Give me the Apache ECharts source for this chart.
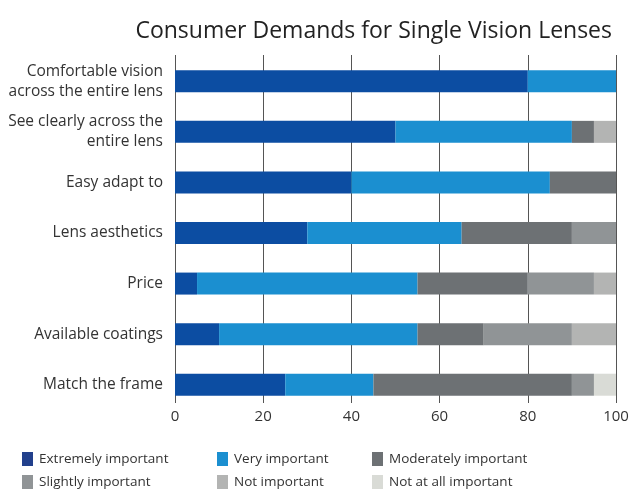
<!DOCTYPE html>
<html>
<head>
<meta charset="utf-8">
<script src="https://cdn.jsdelivr.net/npm/echarts@6/dist/echarts.min.js"></script>
<style>html,body{margin:0;padding:0;background:#fff;}#c{width:640px;height:503px;}</style>
</head>
<body>
<div id="c"></div>
<script>
const categories = [
  "Comfortable vision\nacross the entire lens",
  "See clearly across the\nentire lens",
  "Easy adapt to",
  "Lens aesthetics",
  "Price",
  "Available coatings",
  "Match the frame"
];
const seriesNames = ["Extremely important","Very important","Moderately important","Slightly important","Not important","Not at all important"];
const extremely = [80, 50, 40, 30, 5, 10, 25];
const very      = [20, 40, 45, 35, 50, 45, 20];
const moderately= [0, 5, 15, 25, 25, 15, 45];
const slightly  = [0, 0, 0, 10, 15, 20, 5];
const notImp    = [0, 5, 0, 0, 5, 10, 0];
const notAtAll  = [0, 0, 0, 0, 0, 0, 5];
const xTicks = [0, 20, 40, 60, 80, 100];

const colors = ["#0c4da2","#1b8fd0","#6d7174","#909496","#b3b4b3","#d9dbd6"];
const legendColors = ["#22408c","#1b8fd0","#6d7174","#909496","#b3b4b3","#d9dbd6"];
const values = [extremely, very, moderately, slightly, notImp, notAtAll];
const FONT = "Open Sans";

const chart = echarts.init(document.getElementById('c'));
const legendPos = [[22,452],[217,452],[372,452],[22,475],[217,475],[372,475]];
chart.setOption({
  animation: false,
  textStyle: {fontFamily: FONT},
  title: {
    text: "Consumer Demands for Single Vision Lenses",
    right: 23, top: 15,
    textStyle: {fontFamily: FONT, fontSize: 23, fontWeight: 'normal', color: '#222'}
  },
  legend: seriesNames.map((n, i) => ({
    data: [{name: n, itemStyle: {color: legendColors[i]}}],
    left: legendPos[i][0], top: legendPos[i][1],
    icon: 'rect', itemWidth: 11, itemHeight: 14, itemGap: 6,
    padding: 0,
    selectedMode: false,
    textStyle: {fontFamily: FONT, fontSize: 13.5, color: '#333', padding: [0,0,0,1]}
  })),
  grid: [
    {left: 175, right: 24, top: 56, height: 354, containLabel: false},
    {left: 175, right: 24, top: 55, height: 348, containLabel: false}
  ],
  xAxis: [
    {gridIndex: 0, type: 'value', min: 0, max: 100, show: false},
    {gridIndex: 1, type: 'value', min: 0, max: 100, interval: 20,
     axisLine: {show: false}, axisTick: {show: false},
     splitLine: {show: true, lineStyle: {color: '#555', width: 1}},
     axisLabel: {margin: 6, fontFamily: FONT, fontSize: 15, color: '#333',
       formatter: v => xTicks.includes(v) ? String(v) : ''}}
  ],
  yAxis: [
    {gridIndex: 0, type: 'category', data: categories, inverse: true,
     axisLine: {show: false}, axisTick: {show: false}, splitLine: {show: false},
     axisLabel: {margin: 12, fontFamily: FONT, fontSize: 15.5, color: '#333', lineHeight: 20, align: 'right'}},
    {gridIndex: 1, type: 'value', show: false}
  ],
  series: seriesNames.map((n, i) => ({
    name: n, type: 'bar', stack: 'total',
    xAxisIndex: 0, yAxisIndex: 0,
    barWidth: 22,
    itemStyle: {color: colors[i]},
    data: values[i]
  }))
});
</script>
</body>
</html>
